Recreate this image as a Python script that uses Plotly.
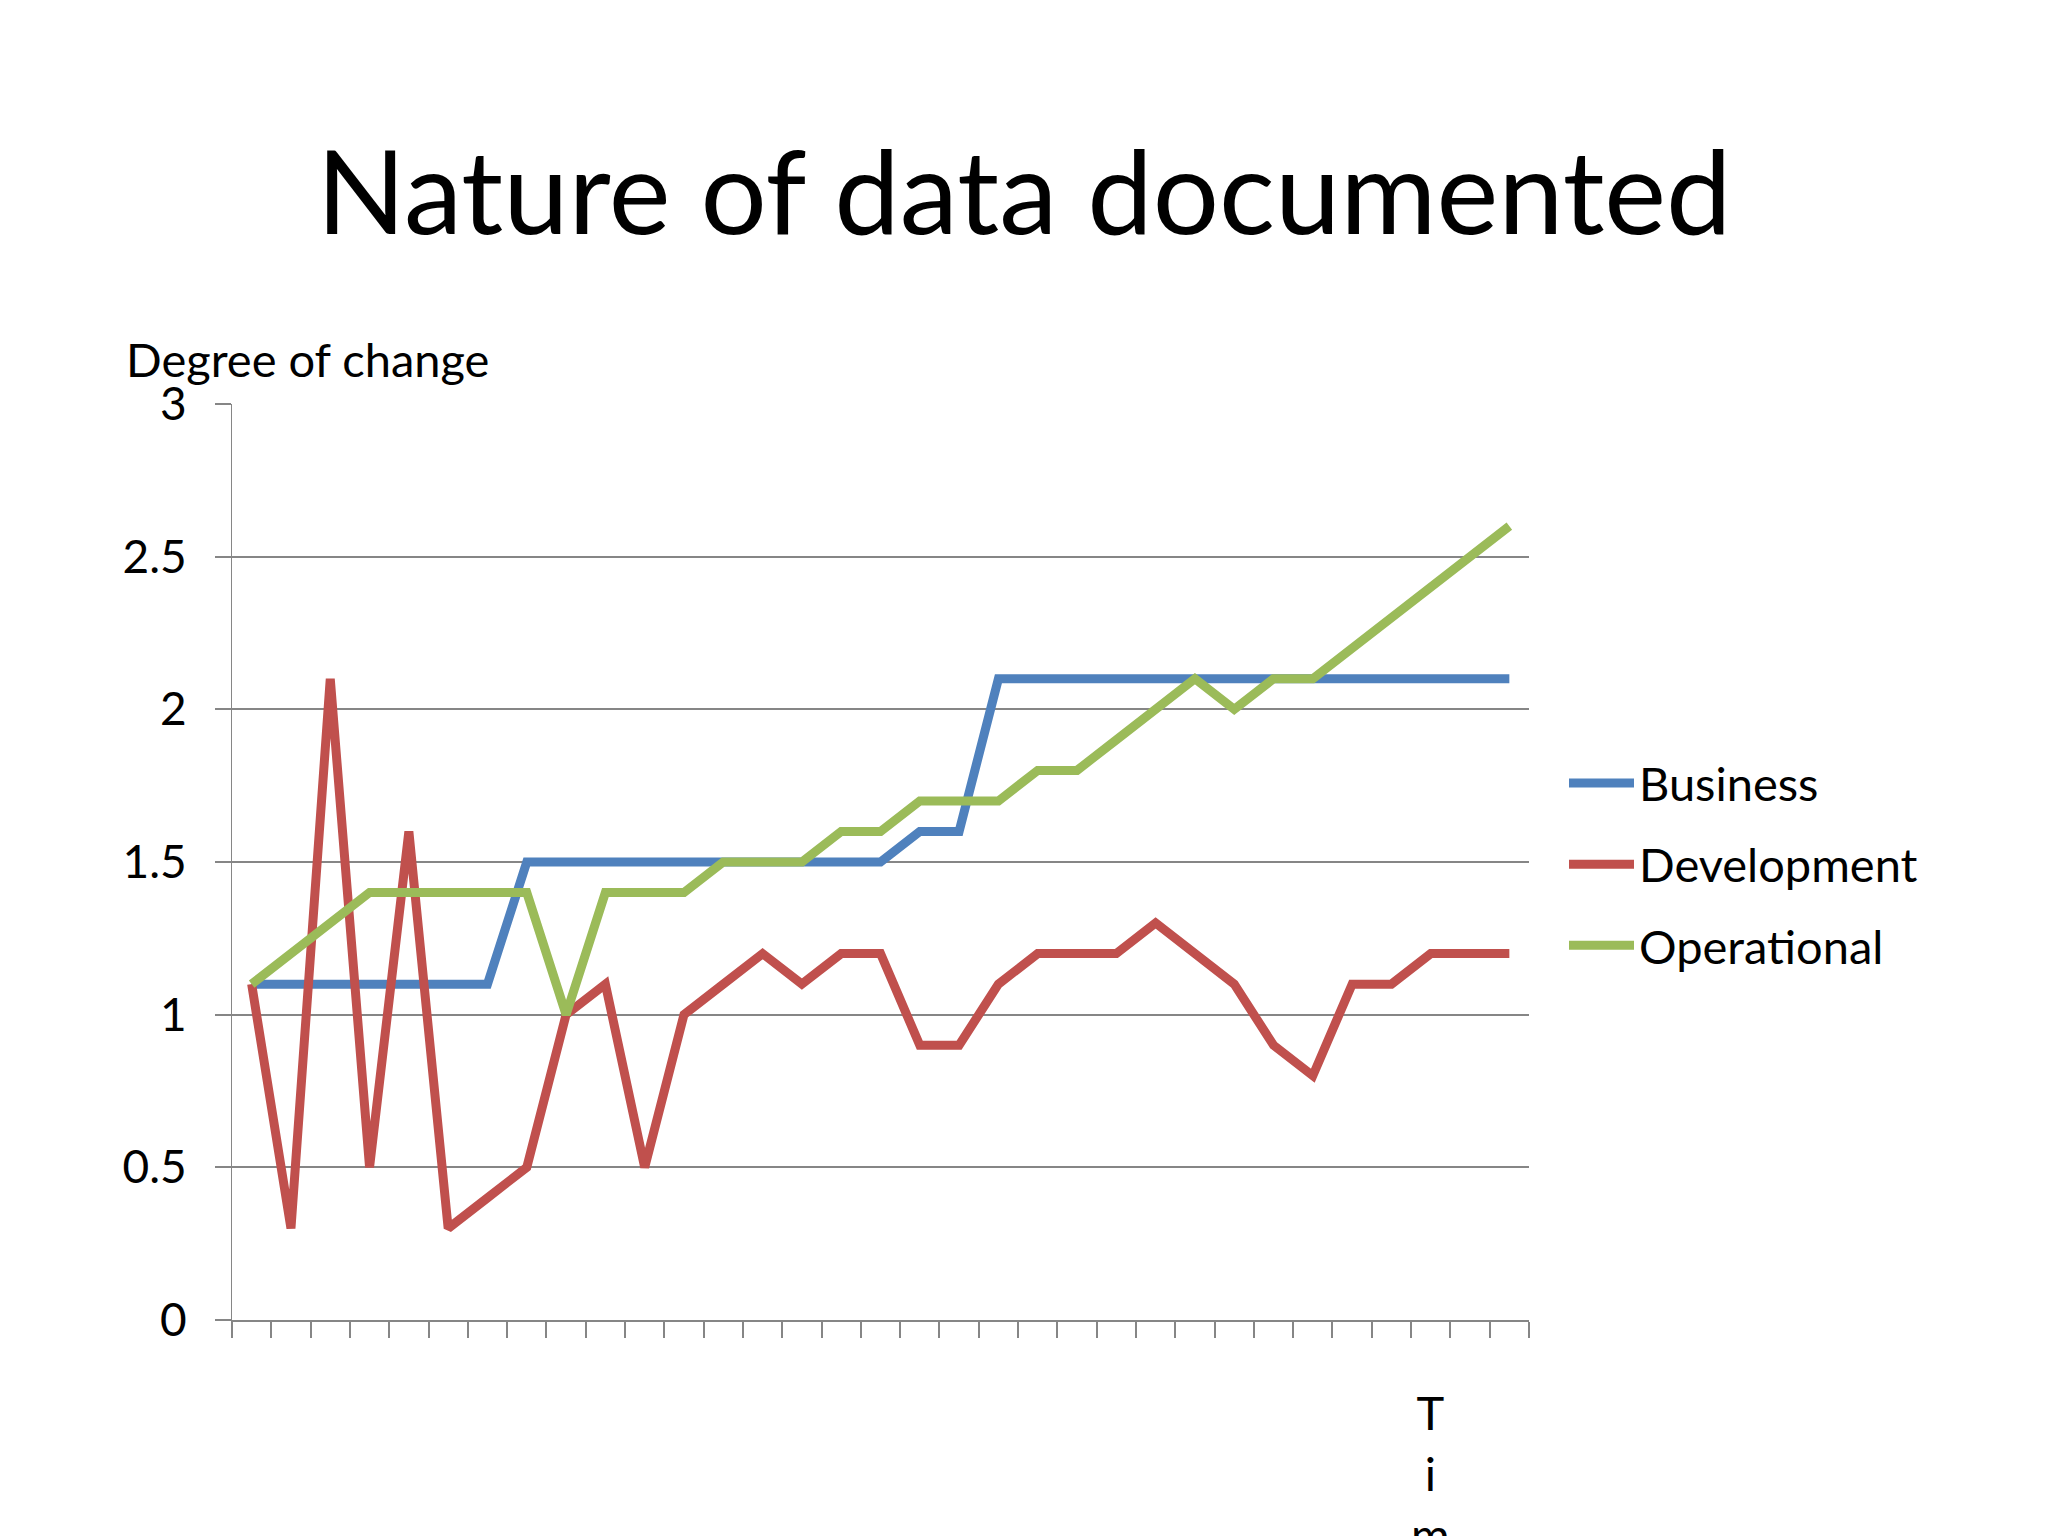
import plotly.graph_objects as go

# data (33 time steps, no labels on the x axis)
steps = list(range(33))
business = [1.1, 1.1, 1.1, 1.1, 1.1, 1.1, 1.1, 1.5, 1.5, 1.5, 1.5,
            1.5, 1.5, 1.5, 1.5, 1.5, 1.5, 1.6, 1.6, 2.1, 2.1, 2.1,
            2.1, 2.1, 2.1, 2.1, 2.1, 2.1, 2.1, 2.1, 2.1, 2.1, 2.1]
development = [1.1, 0.3, 2.1, 0.5, 1.6, 0.3, 0.4, 0.5, 1.0, 1.1, 0.5,
               1.0, 1.1, 1.2, 1.1, 1.2, 1.2, 0.9, 0.9, 1.1, 1.2, 1.2,
               1.2, 1.3, 1.2, 1.1, 0.9, 0.8, 1.1, 1.1, 1.2, 1.2, 1.2]
operational = [1.1, 1.2, 1.3, 1.4, 1.4, 1.4, 1.4, 1.4, 1.0, 1.4, 1.4,
               1.4, 1.5, 1.5, 1.5, 1.6, 1.6, 1.7, 1.7, 1.7, 1.8, 1.8,
               1.9, 2.0, 2.1, 2.0, 2.1, 2.1, 2.2, 2.3, 2.4, 2.5, 2.6]

series = [("Business", business, "#4F81BD"),
          ("Development", development, "#C0504D"),
          ("Operational", operational, "#9BBB59")]

W, H = 2048, 1536
# plot area in figure pixels (page has an 8px body margin)
left, right, top, bottom = 224, 1521, 396, 1312
grid = "#868686"
font = "Lato"

fig = go.Figure()
for name, vals, col in series:
    fig.add_trace(go.Scatter(
        x=steps, y=vals, mode="lines", name=name, legendgroup=name,
        line=dict(color=col, width=9)
    ))


def px_x(x):
    return (x - left) / (right - left)


def px_y(y):
    return (bottom - y) / (bottom - top)


fig.update_layout(
    width=W, height=H,
    margin=dict(l=left, r=W - right, t=top, b=H - bottom, pad=0),
    paper_bgcolor="white", plot_bgcolor="white",
    font=dict(family=font, color="black", size=46),
    title=dict(text="Nature of data documented", x=0.5 - 8 / W, xref="container",
               xanchor="center", y=1 - 185 / H, yref="container", yanchor="middle",
               font=dict(family=font, size=117, color="black")),
    showlegend=True,
    legend=dict(x=px_x(1556), y=px_y(738), xanchor="left", yanchor="top",
                font=dict(family=font, size=47), traceorder="grouped",
                tracegroupgap=17, itemwidth=65, bgcolor="rgba(0,0,0,0)"),
    xaxis=dict(range=[-0.5, 32.5], tick0=-0.5, dtick=1, showticklabels=False,
               ticks="outside", ticklen=16, tickcolor=grid, tickwidth=1.5,
               showgrid=False, zeroline=False, showline=True,
               linecolor=grid, linewidth=2),
    yaxis=dict(range=[0, 3], dtick=0.5, tick0=0, ticks="outside", ticklen=16,
               tickcolor=grid, tickwidth=1.5, showgrid=True, gridcolor=grid,
               gridwidth=1.5, zeroline=False, showline=True, linecolor=grid,
               linewidth=1.2, ticklabelstandoff=19,
               tickfont=dict(family=font, size=46, color="black")),
    annotations=[
        dict(text="Degree of change", xref="paper", yref="paper",
             x=px_x(116), y=px_y(351), xanchor="left", yanchor="middle",
             showarrow=False, font=dict(family=font, size=47, color="black")),
        dict(text="T<br>i<br>m<br>e", xref="paper", yref="paper",
             x=px_x(1422), y=px_y(1374), xanchor="center", yanchor="top",
             align="center", showarrow=False,
             font=dict(family=font, size=47, color="black")),
    ],
)

fig.write_html("out.html")
